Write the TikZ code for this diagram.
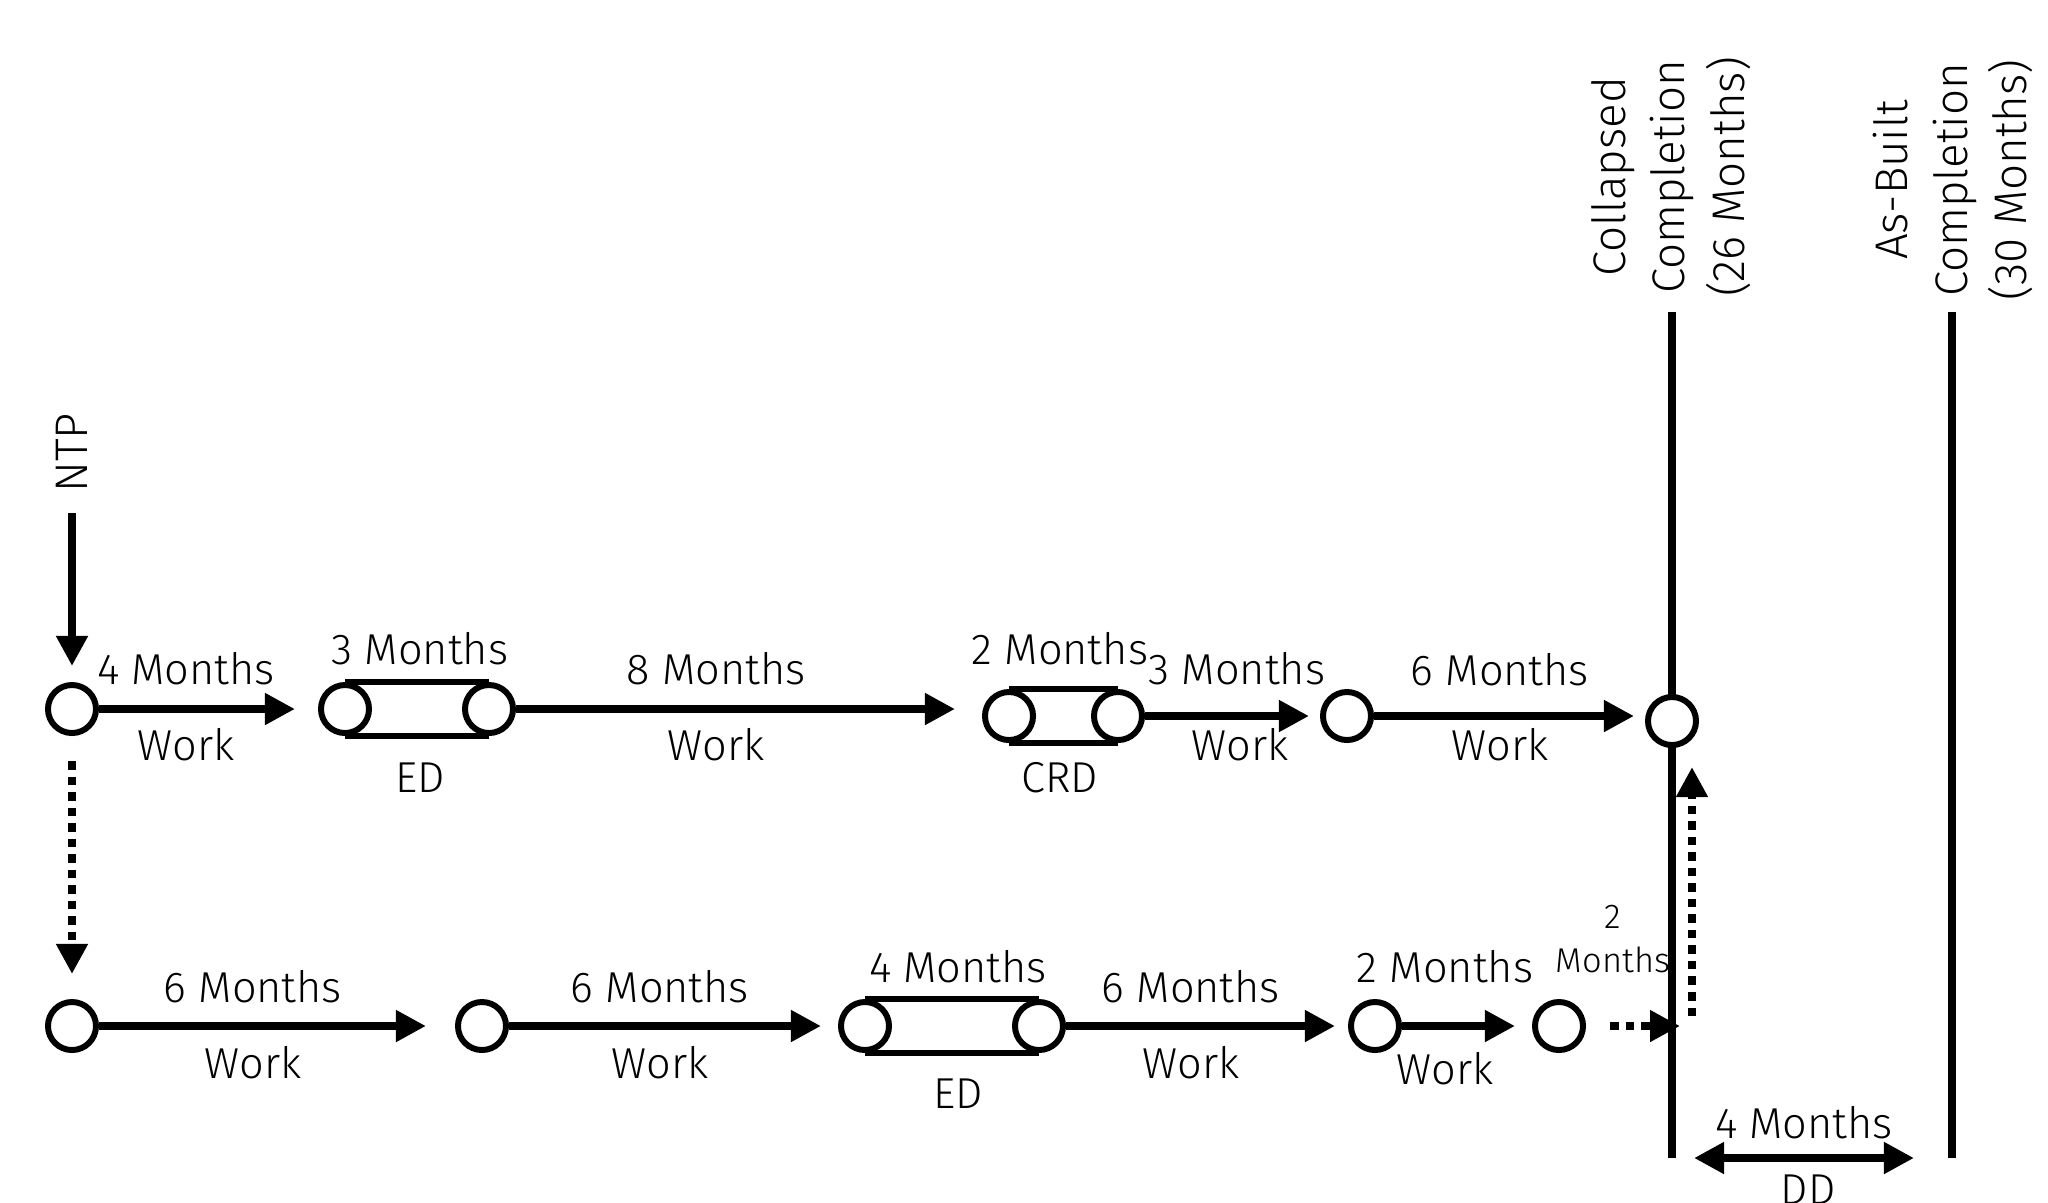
\documentclass[tikz,border=0pt]{standalone}
\usepackage{fontspec}
\setmainfont{Fira Sans}[UprightFont={* Light}]
\usetikzlibrary{positioning,calc,arrows.meta}

\tikzset{
	ev/.style={draw=black, circle, line width=1.7pt, fill=white, minimum size=0.48cm, inner sep=0pt},
	act/.style={line width=2.3pt, -{Triangle[length=0.3cm,width=0.3cm]}},
	dots/.style={act, dash pattern=on 0.085cm off 0.07cm},
	lbl/.style={font=\fontsize{12.3}{14}\selectfont, inner sep=0pt},
	vlbl/.style={font=\fontsize{13}{17}\selectfont, inner sep=0pt, rotate=90, align=center},
}

\begin{document}
\begin{tikzpicture}[x=0.01cm, y=-0.01cm]
		\path[fill=white, use as bounding box] (0,0) rectangle (2048,1202);
		
		% completion lines
		\coordinate (ct) at (1672,312);
		\coordinate (cb) at (1672,1158);
		\coordinate (at) at (1952,312);
		\coordinate (ab) at (1952,1158);
		\draw[line width=2.3pt] (ct)--(cb);
		\draw[line width=2.3pt] (at)--(ab);
		\node[vlbl] (coll) at (1671,177) {Collapsed\\Completion\\(26 Months)};
		\node[vlbl] (asb) at (1953,180) {As-Built\\Completion\\(30 Months)};
		
		% first row
		\node[vlbl] (ntp) at (72,453) {NTP};
		\node[ev] (a0) at (72,709) {};
		\node[ev] (ed1l) at (345,709) {};
		\node[ev] (ed1r) at (489,709) {};
		\node[ev] (crd1l) at (1009,716) {};
		\node[ev] (crd1r) at (1118,716) {};
		\node[ev] (a2) at (1347,716) {};
		\node[ev] (end) at (1672,721) {};
		\draw[line width=1.7pt] (ed1l.north)--(ed1r.north) (ed1l.south)--(ed1r.south);
		\draw[line width=1.7pt] (crd1l.north)--(crd1r.north) (crd1l.south)--(crd1r.south);
		
		\draw[act, shorten <=0.2cm, shorten >=0.16cm] (ntp)--(a0);
		\draw[act, shorten >=0.23cm] (a0.east)--(a0.east -| ed1l.west);
		\draw[act, shorten >=0.27cm] (ed1r.east)--(ed1r.east -| crd1l.west);
		\draw[act, shorten >=0.11cm] (crd1r.east)--(crd1r.east -| a2.west);
		\draw[act, shorten >=0.11cm] (a2.east)--(a2.east -| end.west);
		
		\node[lbl] (m1) at (186,669) {4 Months};
		\node[lbl] (w1) at (186,745) {Work};
		\node[lbl] (m2) at (420,649) {3 Months};
		\node[lbl] (ed1) at (420,778) {ED};
		\node[lbl] (m3) at (716,669) {8 Months};
		\node[lbl] (w3) at (716,745) {Work};
		\node[lbl] (m4) at (1060,649) {2 Months};
		\node[lbl] (crd) at (1060,778) {CRD};
		\node[lbl] (m5) at (1237,669) {3 Months};
		\node[lbl] (w5) at (1240,745) {Work};
		\node[lbl] (m6) at (1500,670) {6 Months};
		\node[lbl] (w6) at (1500,745) {Work};
		
		% second row
		\node[ev] (b0) at (72,1026) {};
		\node[ev] (b1) at (482,1026) {};
		\node[ev] (ed2l) at (865,1026) {};
		\node[ev] (ed2r) at (1039,1026) {};
		\node[ev] (b2) at (1375,1026) {};
		\node[ev] (b3) at (1559,1026) {};
		\draw[line width=1.7pt] (ed2l.north)--(ed2r.north) (ed2l.south)--(ed2r.south);
		
		\draw[dots, shorten <=0.25cm, shorten >=0.25cm] (a0)--(b0);
		\draw[act, shorten >=0.29cm] (b0)--(b1);
		\draw[act, shorten >=0.17cm] (b1)--(ed2l);
		\draw[act, shorten >=0.13cm] (ed2r)--(b2);
		\draw[act, shorten >=0.17cm] (b2)--(b3);
		\coordinate (hit) at (1680,1026);
		\draw[dots, shorten <=0.24cm] (b3)--(hit);
		\coordinate (up) at (1692,1016);
		\draw[dots, shorten >=0.19cm] (up)--(up |- end.south);
		
		\node[lbl] (n1) at (253,987) {6 Months};
		\node[lbl] (v1) at (253,1063) {Work};
		\node[lbl] (n2) at (660,987) {6 Months};
		\node[lbl] (v2) at (660,1063) {Work};
		\node[lbl] (n3) at (958,967) {4 Months};
		\node[lbl] (ed2) at (958,1094) {ED};
		\node[lbl] (n4) at (1191,987) {6 Months};
		\node[lbl] (v4) at (1191,1063) {Work};
		\node[lbl] (n5) at (1445,967) {2 Months};
		\node[lbl] (v5) at (1445,1069) {Work};
		\node[lbl, font=\fontsize{9.8}{12.5}\selectfont, align=center] (n6) at (1613,939) {2\\Months};
		
		% delay
		\draw[line width=2.3pt, {Triangle[length=0.3cm,width=0.3cm]}-{Triangle[length=0.3cm,width=0.3cm]}, shorten <=0.22cm, shorten >=0.38cm] (cb)--(ab);
		\node[lbl] (dm) at (1804,1123) {4 Months};
		\node[lbl] (dd) at (1808,1190) {DD};
	\end{tikzpicture}
\end{document}
